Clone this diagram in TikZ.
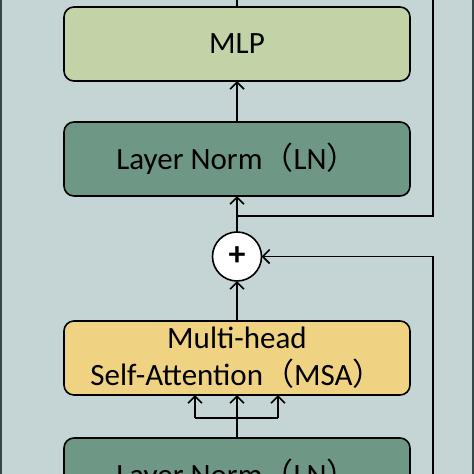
\documentclass[tikz,border=0pt]{standalone}
\usepackage{fontspec}
\setmainfont{Carlito}
\newfontfamily\cjk{Noto Sans CJK SC}
\usepackage{tikz}
\usetikzlibrary{arrows.meta,positioning}

\definecolor{bgcol}{HTML}{C5D5D6}
\definecolor{edgecol}{HTML}{3A4446}
\definecolor{mlpcol}{HTML}{C1D3A7}
\definecolor{lncol}{HTML}{6E9785}
\definecolor{msacol}{HTML}{F0D382}

\begin{document}
\begin{tikzpicture}[x=1pt,y=1pt,>={Straight Barb[length=7pt,width=14pt]},line width=1.6pt,
    block/.style={draw,rounded corners=10pt,minimum width=346pt,minimum height=74pt,inner sep=0pt,outer sep=0pt,align=center,font=\fontsize{31}{37}\selectfont},
    add node/.style={circle,draw,fill=white,minimum size=49pt,inner sep=0pt,outer sep=0pt,font=\fontsize{34}{37}\selectfont\bfseries}]
    \useasboundingbox (0,0) rectangle (474,-474);
    \clip (0,0) rectangle (474,-474);
    \fill[bgcol] (0,0) rectangle (474,-474);
    \fill[edgecol] (0,0) rectangle (2,-474);
    \fill[edgecol] (472,0) rectangle (474,-474);

    \node[block,fill=mlpcol] (mlp) at (237,-44) {MLP};
    \node[block,fill=lncol] (ln) [below=41pt of mlp] {Layer Norm{\cjk（}LN{\cjk）}};
    \node[add node] (plus) [below=36pt of ln] {+};
    \node[block,fill=msacol] (msa) [below=40pt of plus] {Multi-head\\Self-Attention{\cjk（}MSA{\cjk）}};
    \node[block,fill=lncol] (ln2) [below=43pt of msa] {Layer Norm{\cjk（}LN{\cjk）}};

    \coordinate (top) at (237,0);
    \coordinate (j) at (237,-216);
    \coordinate (rtop) at (433,0);
    \coordinate (rbot) at (433,-474);
    \coordinate (fork) at (237,-418);
    \coordinate (forkl) at (195,-418);
    \coordinate (forkr) at (278,-418);

    \draw (mlp) -- (top);
    \draw[->] (ln) -- (mlp);
    \draw[->] (plus) -- (ln);
    \draw (j) -| (rtop);
    \draw[->] (rbot) |- (plus);
    \draw[->] (msa) -- (plus);
    \draw (ln2) -- (fork);
    \draw (forkl) -- (forkr);
    \foreach \c in {forkl,fork,forkr}
        \draw[->] (\c) -- (\c |- msa.south);
\end{tikzpicture}
\end{document}
